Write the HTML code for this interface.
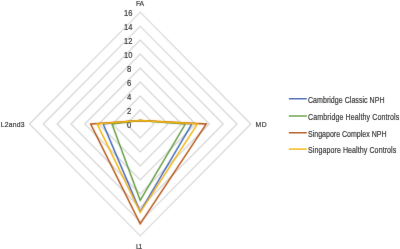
<!DOCTYPE html>
<html><head><meta charset="utf-8"><style>
html,body{margin:0;padding:0;background:#fff;}
body{width:400px;height:249px;overflow:hidden;}
svg{display:block;}
text{font-family:"Liberation Sans",sans-serif;fill:#383838;stroke:#383838;stroke-width:0.2px;}
</style></head><body>
<svg width="400" height="249" viewBox="0 0 400 249">
<defs>
<filter id="soft" x="0" y="0" width="400" height="249" filterUnits="userSpaceOnUse"><feConvolveMatrix order="3" kernelMatrix="0.0113 0.0838 0.0113 0.0838 0.6193 0.0838 0.0113 0.0838 0.0113" divisor="1" edgeMode="none"/></filter>
<filter id="softt" x="0" y="0" width="400" height="249" filterUnits="userSpaceOnUse"><feConvolveMatrix order="3" kernelMatrix="0.0016 0.0371 0.0016 0.0371 0.8450 0.0371 0.0016 0.0371 0.0016" divisor="1" edgeMode="none"/></filter>
</defs>
<rect width="400" height="249" fill="#fff"/>
<g fill="none" filter="url(#soft)" stroke="#d2d2d2" stroke-width="1.1" stroke-linejoin="miter">
<polygon points="126.36,124.00 140.20,110.03 154.04,124.00 140.20,137.97"/>
<polygon points="112.52,124.00 140.20,96.05 167.88,124.00 140.20,151.95"/>
<polygon points="98.69,124.00 140.20,82.08 181.71,124.00 140.20,165.93"/>
<polygon points="84.85,124.00 140.20,68.10 195.55,124.00 140.20,179.90"/>
<polygon points="71.01,124.00 140.20,54.12 209.39,124.00 140.20,193.88"/>
<polygon points="57.17,124.00 140.20,40.15 223.22,124.00 140.20,207.85"/>
<polygon points="43.34,124.00 140.20,26.17 237.06,124.00 140.20,221.82"/>
<polygon points="29.50,124.00 140.20,12.20 250.90,124.00 140.20,235.80"/>
</g>
<g filter="url(#softt)">
<g font-size="8.5">
<text x="127.10" y="127.50" textLength="4.3" lengthAdjust="spacingAndGlyphs">0</text>
<text x="127.10" y="113.53" textLength="4.3" lengthAdjust="spacingAndGlyphs">2</text>
<text x="127.10" y="99.55" textLength="4.3" lengthAdjust="spacingAndGlyphs">4</text>
<text x="127.10" y="85.58" textLength="4.3" lengthAdjust="spacingAndGlyphs">6</text>
<text x="127.10" y="71.60" textLength="4.3" lengthAdjust="spacingAndGlyphs">8</text>
<text x="124.00" y="57.62" textLength="8.4" lengthAdjust="spacingAndGlyphs">10</text>
<text x="124.00" y="43.65" textLength="8.4" lengthAdjust="spacingAndGlyphs">12</text>
<text x="124.00" y="29.67" textLength="8.4" lengthAdjust="spacingAndGlyphs">14</text>
<text x="124.00" y="15.70" textLength="8.4" lengthAdjust="spacingAndGlyphs">16</text>
</g>
<g font-size="8.0">
<text transform="translate(136 5.9) scale(0.85 1)" textLength="9.41" lengthAdjust="spacing">FA</text>
<text transform="translate(255.5 127.2) scale(0.85 1)" textLength="13.18" lengthAdjust="spacing">MD</text>
<text transform="translate(136 249.0) scale(0.85 1)" textLength="7.53" lengthAdjust="spacing">L1</text>
<text transform="translate(0.8 127.2) scale(0.85 1)" textLength="27.88" lengthAdjust="spacing">L2and3</text>
</g>
</g>
<g fill="none" filter="url(#soft)" stroke-width="1.4" stroke-linejoin="miter">
<polygon stroke="#3a62b2" points="103.2,124.0 140.2,120.50 191.8,124.0 140.2,211.6"/>
<polygon stroke="#5e983a" points="112.0,124.0 140.2,120.50 185.3,124.0 140.2,200.3"/>
<polygon stroke="#b24f0e" points="90.7,124.0 140.2,120.50 206.3,124.0 140.2,223.8"/>
<polygon stroke="#f0b200" points="97.2,124.0 140.2,120.50 197.5,124.0 140.2,212.3"/>
</g>
<g stroke-width="1.3">
<line x1="288.8" y1="98.8" x2="306.8" y2="98.8" stroke="#3a62b2"/>
<line x1="288.8" y1="116.0" x2="306.8" y2="116.0" stroke="#5e983a"/>
<line x1="288.8" y1="132.8" x2="306.8" y2="132.8" stroke="#b24f0e"/>
<line x1="288.8" y1="149.1" x2="306.8" y2="149.1" stroke="#f0b200"/>
</g>
<g font-size="8.6" filter="url(#softt)">
<text transform="translate(308.0 102.50) scale(0.82 1)" textLength="93.29" lengthAdjust="spacing">Cambridge Classic NPH</text>
<text transform="translate(308.0 119.70) scale(0.82 1)" textLength="111.34" lengthAdjust="spacing">Cambridge Healthy Controls</text>
<text transform="translate(308.0 136.50) scale(0.82 1)" textLength="95.85" lengthAdjust="spacing">Singapore Complex NPH</text>
<text transform="translate(308.0 152.80) scale(0.82 1)" textLength="107.68" lengthAdjust="spacing">Singapore Healthy Controls</text>
</g>
</svg>
</body></html>
